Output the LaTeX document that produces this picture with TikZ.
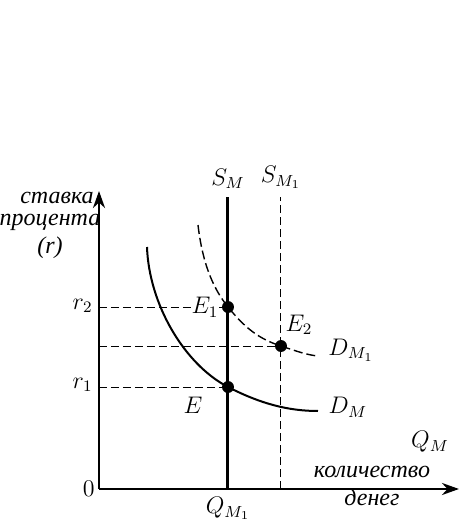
\documentclass[tikz,border=0pt]{standalone}
\usepackage{fontspec}
\setmainfont{Liberation Serif}
\usetikzlibrary{arrows.meta}

\begin{document}
\begin{tikzpicture}[x=0.5pt,y=0.5pt,>={Stealth[length=8.5pt,width=6pt]},
  axis/.style={line width=1.4pt},
  supply/.style={line width=1.5pt},
  guide/.style={line width=0.5pt,dash pattern=on 4pt off 2pt},
  curve/.style={line width=1pt},
  dot/.style={circle,fill=black,inner sep=0pt,minimum size=6pt},
  txt/.style={font=\fontsize{12}{14}\selectfont\itshape,inner sep=1pt},
  mth/.style={font=\fontsize{11.5}{13}\selectfont,inner sep=1pt}]

  \useasboundingbox (-99,-32) rectangle (375,489);

  % --- axes ---
  \coordinate (O) at (0,0);
  \coordinate (ytip) at (0,298);
  \coordinate (xtip) at (360,0);
  \draw[axis,->] (O) -- (ytip);
  \draw[axis,->] (O) -- (xtip);
  \node[mth,left] (zero) at (-2,0) {$0$};

  % --- axis titles ---
  \node[txt] (stavka) at (-42,291) {ставка};
  \node[txt] (procenta) at (-49,267) {процента};
  \node[txt] (rlbl) at (-49,241) {(r)};
  \node[mth] (qm) at (331,47) {$Q_M$};
  \node[txt] (kolvo) at (273,17) {количество};
  \node[txt] (deneg) at (273,-8) {денег};

  % --- equilibrium points ---
  \coordinate (E) at (129,102);
  \coordinate (E1) at (129,182);
  \coordinate (E2) at (182,143);

  % --- guide lines to the rate axis ---
  \draw[guide] (O |- E1) -- (E1);
  \draw[guide] (O |- E2) -- (E2);
  \draw[guide] (O |- E) -- (E);
  \node[mth,left] (r2) at (-4,183) {$r_2$};
  \node[mth,left] (r1) at (-4,104) {$r_1$};

  % --- supply lines ---
  \coordinate (smtop) at (129,292);
  \coordinate (smone) at (182,292);
  \draw[supply] (E |- O) -- (smtop);
  \draw[guide] (E2 |- O) -- (smone);
  \node[mth,above=3pt] (sm) at (smtop) {$S_M$};
  \node[mth,above=3pt] (smonelbl) at (smone) {$S_{M_1}$};
  \node[mth,below=3pt] (qmone) at (E |- O) {$Q_{M_1}$};

  % --- demand curves ---
  \draw[curve] (48,242) .. controls (50,185) and (85,125) .. (E)
    .. controls (162,85) and (190,78) .. (219,78);
  \draw[curve,line width=0.7pt,dash pattern=on 4.5pt off 2pt] (99,264)
    .. controls (103,230) and (112,203) .. (E1)
    .. controls (146,161) and (160,150) .. (E2)
    .. controls (197,138) and (208,134) .. (219,133);
  \node[mth] (dm) at (249,82) {$D_M$};
  \node[mth] (dmone) at (252,139) {$D_{M_1}$};

  % --- points and their labels ---
  \node[mth,fill=white,inner sep=0.5pt] (e1lbl) at (106,182) {$E_1$};
  \node[mth] (elbl) at (94,84) {$E$};
  \node[mth] (e2lbl) at (200,164) {$E_2$};
  \node[dot] (pE) at (E) {};
  \node[dot] (pE1) at (E1) {};
  \node[dot] (pE2) at (E2) {};

\end{tikzpicture}
\end{document}
